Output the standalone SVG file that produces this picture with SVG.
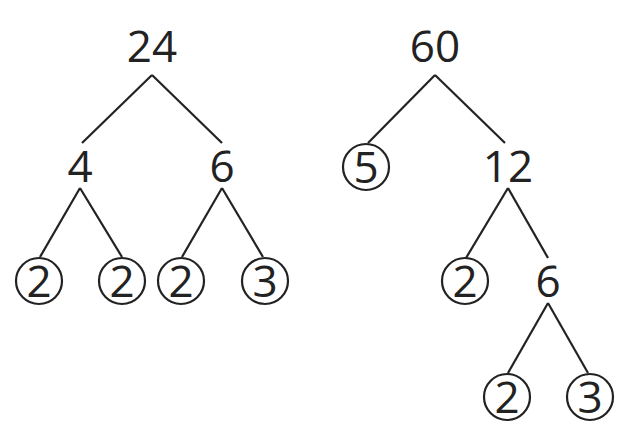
<svg xmlns="http://www.w3.org/2000/svg" width="630" height="438" viewBox="0 0 630 438">
<style>
text{font-family:"Open Sans","DejaVu Sans",sans-serif;font-size:44px;fill:#222;text-anchor:middle}
line{stroke:#222;stroke-width:2.2}
circle{fill:none;stroke:#222;stroke-width:2.2}
</style>
<rect width="630" height="438" fill="#fff"/>
<g id="connectors">
<line x1="152" y1="75" x2="82" y2="143"/><line x1="152" y1="75" x2="222" y2="143"/>
<line x1="80" y1="188" x2="40" y2="257"/><line x1="80" y1="188" x2="122" y2="257"/>
<line x1="222" y1="188" x2="182" y2="257"/><line x1="222" y1="188" x2="263" y2="257"/>
<line x1="435" y1="75" x2="368" y2="143"/><line x1="435" y1="75" x2="505" y2="143"/>
<line x1="508" y1="188" x2="466" y2="258"/><line x1="508" y1="188" x2="548" y2="258"/>
<line x1="548" y1="303" x2="508" y2="373"/><line x1="548" y1="303" x2="588" y2="373"/>
</g>
<g id="n24"><text x="152" y="62">24</text></g>
<g id="n4"><text x="80" y="182">4</text></g>
<g id="n6a"><text x="222" y="182">6</text></g>
<g id="c1"><circle cx="39" cy="281" r="23"/><text x="39" y="297">2</text></g>
<g id="c2"><circle cx="122" cy="281" r="23"/><text x="122" y="297">2</text></g>
<g id="c3"><circle cx="181" cy="281" r="23"/><text x="181" y="297">2</text></g>
<g id="c4"><circle cx="265" cy="281" r="23"/><text x="265" y="297">3</text></g>
<g id="n60"><text x="435" y="62">60</text></g>
<g id="c5"><circle cx="366" cy="167" r="23"/><text x="366" y="183">5</text></g>
<g id="n12"><text x="508" y="182">12</text></g>
<g id="c6"><circle cx="465" cy="281" r="23"/><text x="465" y="297">2</text></g>
<g id="n6b"><text x="548" y="297">6</text></g>
<g id="c7"><circle cx="507" cy="397" r="23"/><text x="507" y="413">2</text></g>
<g id="c8"><circle cx="590" cy="397" r="23"/><text x="590" y="413">3</text></g>
</svg>
